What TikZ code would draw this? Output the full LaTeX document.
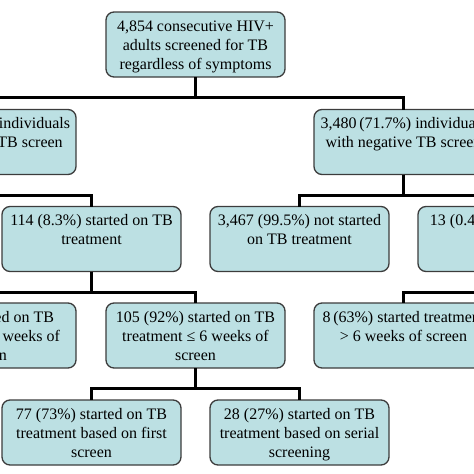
\documentclass[tikz,border=0pt]{standalone}
\usepackage{fontspec}
\setmainfont{Liberation Serif}
\definecolor{boxfill}{HTML}{BCE0E3}
\definecolor{boxline}{HTML}{3C3C3C}
\newcommand{\bxt}[1]{\parbox[c][65pt][t]{179pt}{\centering\fontsize{16}{19}\selectfont\rule{0pt}{19pt}#1}}
\tikzset{
  fbox/.style={draw=boxline, line width=1.3pt, fill=boxfill, rounded corners=8pt, inner sep=0pt, outer sep=0pt},
  conn/.style={draw=black, line width=3pt}
}
\begin{document}
\begin{tikzpicture}[x=1pt,y=-1pt]
\useasboundingbox (0,0) rectangle (474,474);
\clip (0,0) rectangle (474,474);
% row 1
\node[fbox] (top) at (195.5,44.5) {\bxt{4,854 consecutive HIV+\\adults screened for TB\\regardless of symptoms}};
% row 2
\node[fbox] (pos) at (-13.5,142) {\bxt{1,374 (28.3\%) individuals\\with positive TB screen}};
\node[fbox] (neg) at (403.5,142) {\bxt{3,480\,(71.7\%) individuals\\with negative TB screen}};
% row 3
\node[fbox] (s114) at (91.5,239) {\bxt{114 (8.3\%) started on TB\\treatment}};
\node[fbox] (n3467) at (299.5,239) {\bxt{3,467 (99.5\%) not started\\on TB treatment}};
\node[fbox] (s13) at (507.5,239) {\bxt{13 (0.4\%) started on TB\\treatment}};
% row 4
\node[fbox] (s9) at (-13.5,335.5) {\bxt{9 (8\%) started on TB\\treatment > 6 weeks of\\screen}};
\node[fbox] (s105) at (195.5,335.5) {\bxt{105 (92\%) started on TB\\treatment ≤ 6 weeks of\\screen}};
\node[fbox] (s8) at (403.5,335.5) {\bxt{8\,(63\%) started treatment\\> 6 weeks of screen}};
% row 5
\node[fbox] (s77) at (91.5,432.5) {\bxt{77 (73\%) started on TB\\treatment based on first\\screen}};
\node[fbox] (s28) at (299.5,432.5) {\bxt{28 (27\%) started on TB\\treatment based on serial\\screening}};
% connectors
\draw[conn] (top.south) -- ++(0,20) -| (pos.north);
\draw[conn] (top.south) -- ++(0,20) -| (neg.north);
\draw[conn] (pos.south) -- ++(0,21) -| (s114.north);
\draw[conn] (neg.south) -- ++(0,21) -| (n3467.north);
\draw[conn] (neg.south) -- ++(0,21) -| (s13.north);
\draw[conn] (s114.south) -- ++(0,21) -| (s9.north);
\draw[conn] (s114.south) -- ++(0,21) -| (s105.north);
\draw[conn] (s13.south) -- ++(0,21) -| (s8.north);
\draw[conn] (s105.south) -- ++(0,20) -| (s77.north);
\draw[conn] (s105.south) -- ++(0,20) -| (s28.north);
\end{tikzpicture}
\end{document}
